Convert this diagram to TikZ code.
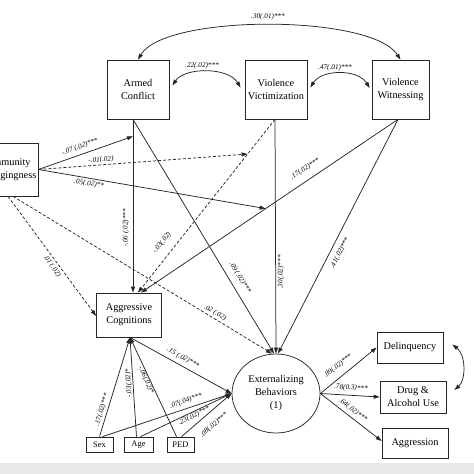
\documentclass[tikz,border=0pt]{standalone}
\usepackage{fontspec}
\setmainfont{Liberation Serif}
\usetikzlibrary{arrows.meta,calc,shapes.geometric}
\begin{document}
\begin{tikzpicture}[x=1pt,y=-1pt,
  box/.style={draw=black!85, line width=0.75pt, align=center, font=\fontsize{10.3}{13}\selectfont, inner sep=1pt},
  smallbox/.style={draw=black!85, line width=0.75pt, font=\fontsize{8.5}{10}\selectfont, inner sep=0pt, minimum height=15pt},
  lab/.style={font=\fontsize{7.2}{9}\selectfont\itshape, inner sep=0pt},
  conn/.style={draw=black!85, line width=0.75pt, -{Triangle[length=6pt,width=4pt]}},
  dconn/.style={conn, dash pattern=on 3pt off 2pt},
  biarrow/.style={draw=black!85, line width=0.75pt, {Triangle[length=6pt,width=4pt]}-{Triangle[length=6pt,width=4pt]}},
]
\useasboundingbox (0,0) rectangle (474,474);
\fill[black!9] (0,463) rectangle (474,474);

% nodes
\node[box, minimum width=62pt, minimum height=59pt] (ac) at (138,89.5) {Armed\\Conflict};
\node[box, minimum width=62pt, minimum height=59pt] (vv) at (276,89.5) {Violence\\Victimization};
\node[box, minimum width=57pt, minimum height=59pt] (vw) at (400.5,89.5) {Violence\\Witnessing};
\node[box, minimum width=64pt, minimum height=53pt] (cb) at (6,169.5) {Community\\Belongingness};
\node[box, minimum width=65pt, minimum height=44pt] (agc) at (129,315) {Aggressive\\Cognitions};
\node[box, ellipse, minimum width=88pt, minimum height=79pt, inner sep=0pt] (ext) at (276,393.5) {Externalizing\\Behaviors\\(1)};
\node[smallbox, minimum width=27pt] (sex) at (99.5,444.5) {Sex};
\node[smallbox, minimum width=29pt] (age) at (138.5,444.5) {Age};
\node[smallbox, minimum width=27pt] (ped) at (180.5,444.5) {PED};
\node[box, minimum width=66pt, minimum height=31pt] (del) at (410,347.5) {Delinquency};
\node[box, minimum width=66pt, minimum height=32pt] (dru) at (413,397) {Drug \&\\Alcohol Use};
\node[box, minimum width=66pt, minimum height=30pt] (agg) at (415,443) {Aggression};

% anchor coordinates
\coordinate (acb) at ([xshift=-5pt]ac.south);
\coordinate (agtA) at ([xshift=4pt]agc.north);
\coordinate (vvb) at ([xshift=-1pt]vv.south);
\coordinate (agtV) at ([xshift=9pt]agc.north);
\coordinate (vwb) at ([xshift=-2.5pt]vw.south);
\coordinate (agtW) at ([xshift=12pt]agc.north);
\coordinate (cbr) at (cb.east);
\coordinate (cbb1) at ([xshift=2pt]cb.south);
\coordinate (cbb2) at ([xshift=7pt]cb.south);
\coordinate (agb) at ([xshift=1pt]agc.south);
\coordinate (m1) at ($(acb)!0.0977!(agtA)$);
\coordinate (m2) at ($(vvb)!0.2!(agtV)$);
\coordinate (m3) at ($(vwb)!0.515!(agtW)$);

% exposure paths
\draw[conn] (acb) -- (agtA);
\draw[conn] (acb) -- ([xshift=-2pt]ext.north);
\draw[dconn] (vvb) -- (agtV);
\draw[conn] (vvb) -- (ext.north);
\draw[conn] (vwb) -- (agtW);
\draw[conn] (vwb) -- ([xshift=2pt]ext.north);

% community paths
\draw[conn] (cbr) -- (m1);
\draw[dconn] (cbr) -- (m2);
\draw[conn] (cbr) -- (m3);
\draw[dconn] (cbb1) -- ([yshift=-1pt]agc.west);
\draw[dconn] (cbb2) -- ([xshift=-4pt]ext.north);

% covariates
\draw[conn] (sex.north) -- (agb);
\draw[conn] ([xshift=-2pt]age.north) -- (agb);
\draw[conn] ([xshift=-4pt]ped.north) -- (agb);
\draw[conn] ([xshift=3pt]sex.north) -- (ext.west);
\draw[conn] ([xshift=2pt]age.north) -- (ext.west);
\draw[conn] ([xshift=1pt]ped.north) -- (ext.west);
\draw[conn] (agb) -- (ext.west);

% outcomes
\draw[conn] (ext.east) -- (del.west);
\draw[conn] (ext.east) -- (dru.west);
\draw[conn] (ext.east) -- ([yshift=2pt]agg.west);

% correlations
\draw[biarrow] (ac.north) .. controls (165,14) and (371,14) .. (vw.north);
\draw[biarrow] ([xshift=3pt,yshift=4pt]ac.east) .. controls (185,67) and (228,67) .. ([xshift=-4pt,yshift=2pt]vv.west);
\draw[biarrow] ([xshift=3pt,yshift=2pt]vv.east) .. controls (322,69) and (358,69) .. ([xshift=-2pt,yshift=1.5pt]vw.west);
\draw[biarrow] ([xshift=9pt,yshift=3pt]del.east) .. controls (466,355) and (466,380) .. ([xshift=8pt,yshift=7pt]dru.east);

% labels
\node[lab] (l1) at (268,17) {.30(.01)***};
\node[lab] (l2) at (202,66) {.22(.02)***};
\node[lab] (l3) at (335,68) {.47(.01)***};
\node[lab, rotate=19.7] (l4) at (80,147) {-.07 (.02)***};
\node[lab, rotate=4.5] (l5) at (101,160) {-.01(.02)};
\node[lab, rotate=-9] (l6) at (89,184) {.05(.02)**};
\node[lab, rotate=90] (l7) at (126,228) {-.06 (.02)***};
\node[lab, rotate=51.6] (l8) at (162,243) {-.03(.02)};
\node[lab, rotate=-58.9] (l9) at (240,278) {.09 (.02)***};
\node[lab, rotate=90] (l10) at (281,272) {.30(.02)***};
\node[lab, rotate=34] (l11) at (305,169) {.17(.02)***};
\node[lab, rotate=62.9] (l12) at (340,253) {.41(.02)***};
\node[lab, rotate=-53.7] (l13) at (52,266) {.01 (.02)};
\node[lab, rotate=-31.1] (l14) at (215,313) {.02 (.02)};
\node[lab, rotate=73] (l15) at (102,410) {.17(.02)***};
\node[lab, rotate=93.7] (l16) at (129,383) {-.03(.02)*};
\node[lab, rotate=-65] (l17) at (146,380) {-.06(.02)*};
\node[lab, rotate=-29] (l18) at (183,358) {.15 (.02)***};
\node[lab, rotate=18.6] (l19) at (186,401) {.07(.04)***};
\node[lab, rotate=25.4] (l20) at (194,416) {.23(.02)***};
\node[lab, rotate=40.7] (l21) at (214,425) {.08(.02)***};
\node[lab, rotate=39] (l22) at (338,366) {.89(.02)***};
\node[lab, rotate=-3.3] (l23) at (351,388) {.78(0.3)***};
\node[lab, rotate=-37.5] (l24) at (353,410) {.64(.02)***};
\end{tikzpicture}
\end{document}
